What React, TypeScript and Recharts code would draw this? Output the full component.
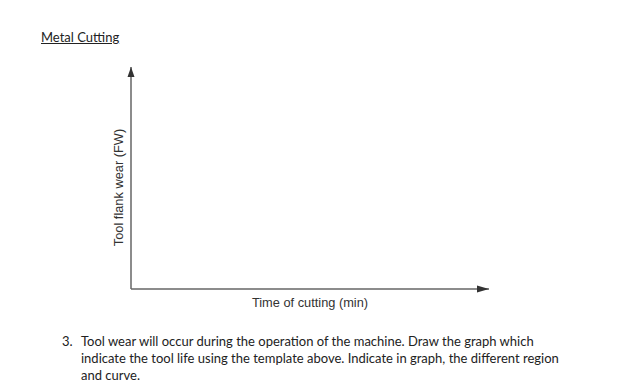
import React from "react";
import { LineChart, Line, XAxis, YAxis, Label } from "recharts";

const pageTitle = "Metal Cutting";
const xAxisTitle = "Time of cutting (min)";
const yAxisTitle = "Tool flank wear (FW)";
const timeDomain = [0, 10];
const wearDomain = [0, 10];
const questionNumber = "3.";
const questionLines = [
  "Tool wear will occur during the operation of the machine. Draw the graph which",
  "indicate the tool life using the template above. Indicate in graph, the different region",
  "and curve.",
];

// axis end markers: the y-axis arrow sits at (time 0, wear max), the x-axis arrow at (time max, wear 0)
const data = [
  { time: timeDomain[0], yArrow: wearDomain[1], xArrow: null as number | null },
  { time: timeDomain[1], yArrow: null as number | null, xArrow: wearDomain[0] },
];

const AXIS_COLOR = "#666666";

const RightArrow = (props: any) => {
  const { cx, cy, key } = props;
  if (cx == null || cy == null || isNaN(cy)) return <g key={key} />;
  return <path key={key} d={`M${cx},${cy} L${cx - 12},${cy - 3.5} L${cx - 12},${cy + 3.5} Z`} fill="#333" />;
};
const UpArrow = (props: any) => {
  const { cx, cy, key } = props;
  if (cx == null || cy == null || isNaN(cy)) return <g key={key} />;
  return <path key={key} d={`M${cx},${cy} L${cx - 3.5},${cy + 10} L${cx + 3.5},${cy + 10} Z`} fill="#333" />;
};

const labelFont = "Liberation Sans, Arial, sans-serif";

const XTitle = (props: any) => {
  const vb = props.viewBox || {};
  return (
    <text x={vb.x + vb.width / 2} y={vb.y + 18} textAnchor="middle" fontFamily={labelFont} fontSize={12.8} fill="#333">
      {xAxisTitle}
    </text>
  );
};
const YTitle = (props: any) => {
  const vb = props.viewBox || {};
  const x = vb.x + vb.width - 8;
  const y = vb.y + vb.height / 2 + 9.5;
  return (
    <text
      x={x}
      y={y}
      textAnchor="middle"
      transform={`rotate(-90 ${x} ${y})`}
      fontFamily={labelFont}
      fontSize={12.8}
      fill="#333"
    >
      {yAxisTitle}
    </text>
  );
};

const textFont = "Lato, 'Open Sans', sans-serif";

export default function App() {
  return (
    <div style={{ position: "absolute", left: 0, top: 0, width: 625, height: 391, background: "#fff", overflow: "hidden" }}>
      <div style={{ position: "absolute", left: 0, top: 0 }}>
        <LineChart width={625} height={391} data={data} margin={{ top: 67, right: 136, bottom: 101, left: 130 }}>
          <XAxis
            dataKey="time"
            type="number"
            domain={timeDomain}
            height={1}
            tick={false}
            tickLine={false}
            axisLine={{ stroke: AXIS_COLOR, strokeWidth: 1.5 }}
          >
            <Label content={<XTitle />} />
          </XAxis>
          <YAxis
            type="number"
            domain={wearDomain}
            width={1}
            tick={false}
            tickLine={false}
            axisLine={{ stroke: AXIS_COLOR, strokeWidth: 1.5 }}
          >
            <Label content={<YTitle />} />
          </YAxis>
          <Line dataKey="xArrow" stroke="none" dot={RightArrow} activeDot={false} isAnimationActive={false} />
          <Line dataKey="yArrow" stroke="none" dot={UpArrow} activeDot={false} isAnimationActive={false} />
        </LineChart>
      </div>
      <div
        style={{
          position: "absolute",
          left: 41,
          top: 29,
          fontFamily: textFont,
          fontSize: 13,
          color: "#222",
          textDecoration: "underline",
          lineHeight: "16px",
        }}
      >
        {pageTitle}
      </div>
      <div style={{ position: "absolute", left: 62, top: 333, fontFamily: textFont, fontSize: 13, color: "#222", lineHeight: "17px" }}>
        {questionNumber}
      </div>
      <div style={{ position: "absolute", left: 81, top: 333, fontFamily: textFont, fontSize: 13, color: "#222", lineHeight: "17px", whiteSpace: "nowrap" }}>
        {questionLines.map((l, i) => (
          <div key={i}>{l}</div>
        ))}
      </div>
    </div>
  );
}
